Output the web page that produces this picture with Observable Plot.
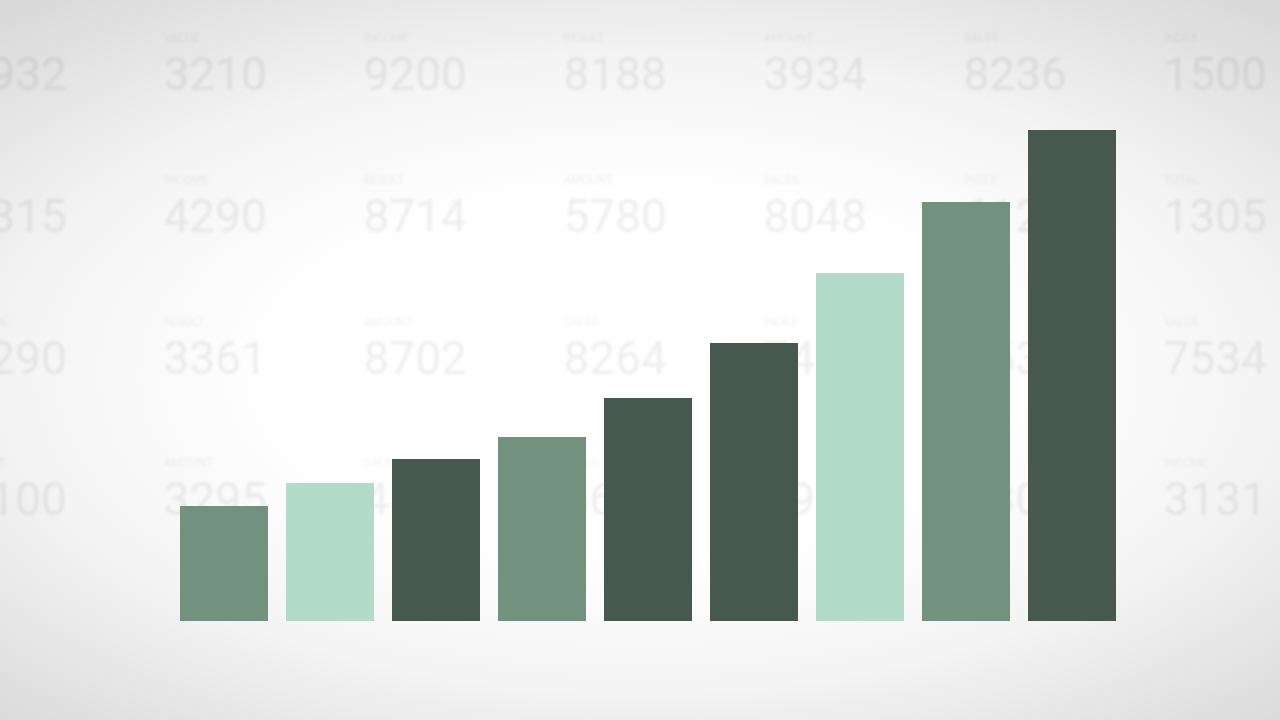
<!DOCTYPE html>
<html>
<head>
<meta charset="utf-8">
<script src="https://cdn.jsdelivr.net/npm/d3@7"></script>
<script src="https://cdn.jsdelivr.net/npm/@observablehq/plot@0.6"></script>
<style>
  html, body { margin: 0; padding: 0; }
  body { width: 1280px; height: 720px; overflow: hidden; }
  #stage {
    position: relative; width: 1280px; height: 720px;
    background: radial-gradient(ellipse 74% 66% at 50% 52%, #ffffff 38%, #f4f4f4 66%, #dadada 100%);
  }
  #bg, #fg { position: absolute; left: 0; top: 0; }
  #bg { filter: blur(1.8px); }
</style>
</head>
<body>
<div id="stage"><div id="bg"></div><div id="fg"></div></div>
<script>
// ---- Bar data ----
const categories = ["1", "2", "3", "4", "5", "6", "7", "8", "9"];
const values = [115, 138, 162, 184, 223, 278, 348, 419, 491];
const tones = ["mid", "light", "dark", "mid", "dark", "dark", "light", "mid", "dark"];
const toneNames = ["light", "mid", "dark"];
const toneColors = ["#b3dbc9", "#72917f", "#465850"];

// ---- Faint background number grid ----
const bgRow0 = ["2932", "3210", "9200", "8188", "3934", "8236", "1500"];
const bgRow1 = ["4315", "4290", "8714", "5780", "8048", "6120", "1305"];
const bgRow2 = ["1290", "3361", "8702", "8264", "7412", "5530", "7534"];
const bgRow3 = ["5100", "3295", "4870", "6621", "2954", "7309", "3131"];
const bgLabels = ["TOTAL", "VALUE", "INCOME", "RESULT", "AMOUNT", "SALES", "INDEX"];

const bars = categories.map((c, i) => ({cat: c, value: values[i], tone: tones[i]}));
const grid = [];
[bgRow0, bgRow1, bgRow2, bgRow3].forEach((row, r) =>
  row.forEach((n, c) => grid.push({col: c, row: r, num: n, label: bgLabels[(c + r) % bgLabels.length]})));

const bgPlot = Plot.plot({
  width: 1280, height: 720,
  marginTop: 0, marginBottom: 0, marginLeft: 0, marginRight: 0,
  style: {background: "transparent", overflow: "visible"},
  x: {type: "linear", domain: [0, 6], range: [-37, 1163], axis: null},
  y: {type: "linear", domain: [0, 3], range: [75, 500], axis: null},
  marks: [
    Plot.text(grid, {x: "col", y: "row", text: "num", textAnchor: "start", lineAnchor: "middle",
      fontSize: 46, fontFamily: "Roboto, 'DejaVu Sans', sans-serif", fill: "#000", fillOpacity: 0.065}),
    Plot.text(grid, {x: "col", y: "row", text: "label", dy: -37, textAnchor: "start", lineAnchor: "middle",
      fontSize: 12, fontFamily: "Roboto, sans-serif", fill: "#000", fillOpacity: 0.06})
  ]
});
document.getElementById("bg").appendChild(bgPlot);

const fgPlot = Plot.plot({
  width: 1280, height: 720,
  marginTop: 0, marginBottom: 0, marginLeft: 0, marginRight: 0,
  style: {background: "transparent"},
  x: {type: "band", domain: categories, range: [171, 1125], paddingInner: 0.17, paddingOuter: 0.085, axis: null},
  y: {domain: [0, 491], range: [621, 130], axis: null},
  color: {type: "ordinal", domain: toneNames, range: toneColors},
  marks: [
    Plot.barY(bars, {x: "cat", y: "value", fill: "tone"})
  ]
});
document.getElementById("fg").appendChild(fgPlot);
</script>
</body>
</html>
